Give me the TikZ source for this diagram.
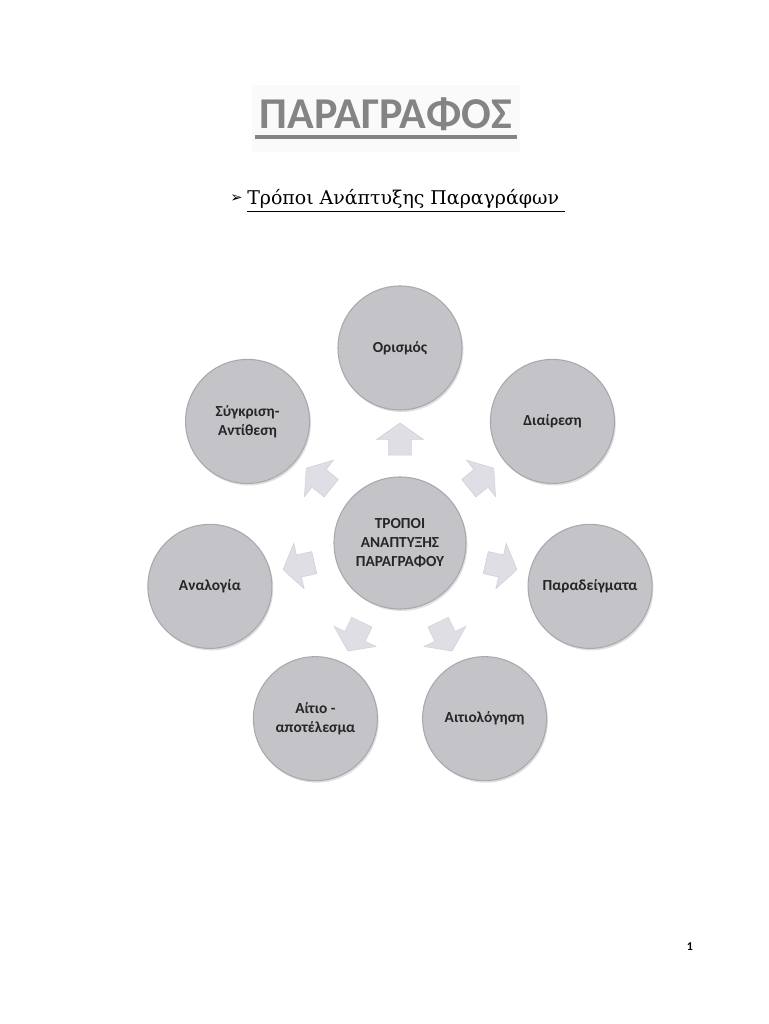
\documentclass[tikz,border=0pt]{standalone}
\usepackage{fontspec}
\setmainfont{Carlito}
\newfontfamily\subfont{DejaVu Serif}
\newfontfamily\symfont{DejaVu Sans}
\usetikzlibrary{shapes.arrows,shadows,calc}

\definecolor{ballfill}{RGB}{195,195,200}
\definecolor{ballrim}{RGB}{168,168,174}
\definecolor{pushfill}{RGB}{222,222,228}
\definecolor{pushrim}{RGB}{208,208,215}
\definecolor{titlegray}{RGB}{132,132,132}

\begin{document}
\begin{tikzpicture}[x=0.75pt,y=0.75pt,
        way/.style={circle, minimum size=93pt, inner sep=0pt, fill=ballfill,
        draw=ballrim, line width=0.8pt, drop shadow={opacity=0.25, shadow xshift=1pt, shadow yshift=-1.5pt},
        align=center, text=black!85, font=\fontsize{11.5}{14}\selectfont\bfseries},
        hub/.style={way, minimum size=99pt},
        push/.style={single arrow, single arrow head extend=9pt, single arrow tip angle=110, minimum width=34.5pt,
        minimum height=24pt, inner xsep=2pt, inner ysep=8.25pt, fill=pushfill, draw=pushrim, line width=0.4pt}]
        \useasboundingbox[fill=white] (0,0) rectangle (768,1024);
        % title and subtitle
        \fill[black!2] (252,872) rectangle (520,939);
        \node[anchor=base, text=titlegray, font=\fontsize{33}{40}\selectfont\bfseries] (title) at (386,895) {ΠΑΡΑΓΡΑΦΟΣ};
        \fill[titlegray] ($(title.base west)+(0,-6)$) rectangle ($(title.base east)+(0,-10)$);
        \node[anchor=base west, inner sep=0pt, font=\symfont\fontsize{11}{12}\selectfont] (tick) at (230,821) {➢};
        \node[anchor=base west, inner sep=0pt, font=\subfont\fontsize{14.2}{17}\selectfont] (sub) at (247,819)
        {\underline{Τρόποι Ανάπτυξης Παραγράφων\ }};
        % the wheel
        \node[hub] (hub) at (400,481) {ΤΡΟΠΟΙ\\ΑΝΑΠΤΥΞΗΣ\\ΠΑΡΑΓΡΑΦΟΥ};
        \foreach \txt [count=\i] in {Ορισμός, Διαίρεση, Παραδείγματα, Αιτιολόγηση, {Αίτιο -\\αποτέλεσμα}, Αναλογία, {Σύγκριση-\\Αντίθεση}} {
            \pgfmathsetmacro\ang{90-(\i-1)*360/7}
            \node[way] (way\i) at ($(hub)+(\ang:195)$) {\txt};
            \node[push, rotate=\ang] (push\i) at ($(hub)+(\ang:100)$) {};
        }
        \node[font=\fontsize{9}{10}\selectfont\bfseries] (page) at (690,77) {1};
    \end{tikzpicture}
\end{document}
